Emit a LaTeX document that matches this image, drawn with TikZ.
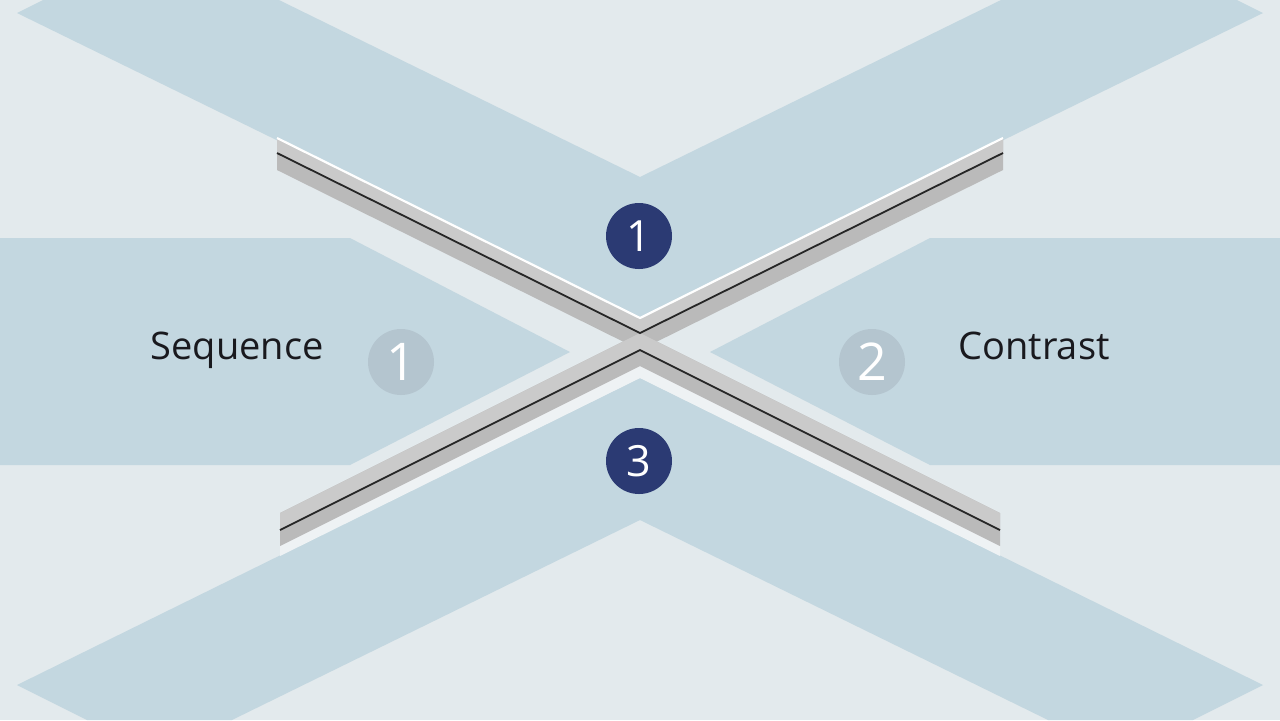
\documentclass[tikz,border=0pt]{standalone}
\usepackage{fontspec}
\setmainfont{Open Sans}
\definecolor{bg}{RGB}{227,234,237}
\definecolor{band}{RGB}{195,215,224}
\definecolor{navy}{RGB}{43,58,115}
\definecolor{greycirc}{RGB}{180,197,207}
\definecolor{barlight}{RGB}{202,202,202}
\definecolor{bardark}{RGB}{186,186,186}
\definecolor{gapwhite}{RGB}{238,242,244}
\definecolor{txt}{RGB}{25,25,30}
\begin{document}
\begin{tikzpicture}[x=0.5pt,y=-0.5pt,
  bandfill/.style={fill=band},
  barbody/.style={fill=bardark},
  barupper/.style={fill=barlight},
  barline/.style={draw=black!85, line width=0.9pt, line join=miter},
  highlight/.style={draw=white, line width=1.1pt, line join=miter},
  navycirc/.style={circle, fill=navy, minimum size=33pt, inner sep=0pt, text=white, font=\fontsize{21.5}{24}\selectfont},
  palecirc/.style={circle, fill=greycirc, minimum size=33pt, inner sep=0pt, text=white, font=\fontsize{26}{28}\selectfont},
  lbltext/.style={text=txt, font=\fontsize{19}{22}\selectfont, inner sep=0pt, anchor=base}
]
\useasboundingbox (0,0) rectangle (1280,720);
\fill[bg] (0,0) rectangle (1280,720);

% top chevron band
\fill[bandfill] (43,0) -- (17,13) -- (640,318) -- (1263,13) -- (1237,0) -- (1001,0) -- (640,177) -- (279,0) -- cycle;
% bottom chevron band
\fill[bandfill] (17,685) -- (87,720) -- (232,720) -- (640,520) -- (1048,720) -- (1193,720) -- (1263,685) -- (640,378) -- cycle;
% left band (Sequence)
\fill[bandfill] (0,238) -- (350,238) -- (570,352) -- (350,465) -- (0,465) -- cycle;
% right band (Contrast)
\fill[bandfill] (1280,238) -- (930,238) -- (710,352) -- (930,465) -- (1280,465) -- cycle;

% light strip under the lower bar
\fill[gapwhite] (280,546) -- (640,366) -- (1000,546) -- (1000,556) -- (640,378) -- (280,556) -- cycle;

% upper V bar
\fill[barbody] (277,138) -- (640,318) -- (1003,138) -- (1003,170) -- (640,350) -- (277,170) -- cycle;
\fill[barupper] (277,138) -- (640,318) -- (1003,138) -- (1003,153) -- (640,333) -- (277,153) -- cycle;
% lower inverted-V bar
\fill[barbody] (280,513) -- (640,333) -- (1000,513) -- (1000,546) -- (640,366) -- (280,546) -- cycle;
\fill[barupper] (280,513) -- (640,333) -- (1000,513) -- (1000,530) -- (640,350) -- (280,530) -- cycle;

% highlights and black lines
\draw[highlight] (277,138) -- (640,318) -- (1003,138);
\draw[barline] (277,153) -- (640,333) -- (1003,153);
\draw[barline] (280,530) -- (640,350) -- (1000,530);

% numbered circles
\node[navycirc] (n1) at (639,236) {1};
\node[navycirc] (n3) at (639,461) {3};
\node[palecirc] (s1) at (401,362) {1};
\node[palecirc] (s2) at (872,362) {2};

% labels
\node[lbltext] (seq) at (237,359) {Sequence};
\node[lbltext] (con) at (1034,359) {Contrast};
\end{tikzpicture}
\end{document}
